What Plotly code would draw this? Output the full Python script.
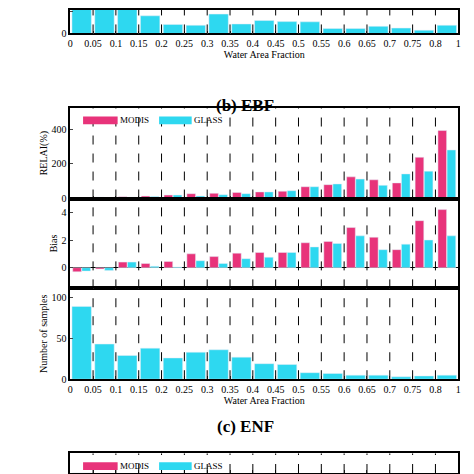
import plotly.graph_objects as go

tick_labels = ["0","0.05","0.1","0.15","0.2","0.25","0.3","0.35","0.4","0.45","0.5","0.55","0.6","0.65","0.7","0.75","0.8","1"]
top_samples = [130,130,130,82,42,38,90,44,60,55,54,23,23,33,25,15,38]
relai_modis = [5,8,10,14,20,28,30,35,38,42,68,80,125,108,90,238,392]
relai_glass = [4,6,8,12,20,14,22,28,38,45,68,84,112,76,142,158,280]
bias_modis = [-0.3,-0.1,0.4,0.3,0.45,1.0,0.8,1.05,1.1,1.1,1.8,1.9,2.9,2.2,1.3,3.4,4.2]
bias_glass = [-0.25,-0.2,0.4,0.1,0.05,0.5,0.3,0.65,0.75,1.1,1.5,1.75,2.3,1.3,1.7,2.0,2.3]
ebf_samples = [89,43,29,38,26,33,36,27,19,18,8,7,5,5,3,4,5]

MOD = "#E8337A"
GLA = "#2ED8F0"
H = 474
def py(p): return 1 - p / H
xc = [i + 0.5 for i in range(17)]

fig = go.Figure()
fig.add_bar(x=xc, y=top_samples, marker_color=GLA, width=0.85, xaxis="x", yaxis="y", showlegend=False)
fig.add_bar(x=[c - 0.2 for c in xc], y=relai_modis, marker_color=MOD, width=0.38, xaxis="x2", yaxis="y2", showlegend=False)
fig.add_bar(x=[c + 0.2 for c in xc], y=relai_glass, marker_color=GLA, width=0.38, xaxis="x2", yaxis="y2", showlegend=False)
fig.add_bar(x=[c - 0.2 for c in xc], y=bias_modis, marker_color=MOD, width=0.38, xaxis="x3", yaxis="y3", showlegend=False)
fig.add_bar(x=[c + 0.2 for c in xc], y=bias_glass, marker_color=GLA, width=0.38, xaxis="x3", yaxis="y3", showlegend=False)
fig.add_bar(x=xc, y=ebf_samples, marker_color=GLA, width=0.85, xaxis="x4", yaxis="y4", showlegend=False)
fig.add_bar(x=[0.5], y=[0], marker_color=GLA, xaxis="x5", yaxis="y5", showlegend=False)

font = dict(family="Liberation Serif", size=10, color="black")
xdom = [60/474, 453/474]
panels = {"": (-60, 24), "2": (100, 193), "3": (193, 285), "4": (285, 378), "5": (454, 520)}
yranges = {"": [0, 109], "2": [0, 524], "3": [-1.5, 5], "4": [0, 111], "5": [0, 500]}
ytv = {"": [0, 100], "2": [0, 200, 400], "3": [0, 2, 4], "4": [0, 50, 100], "5": []}
ytitles = {"": "", "2": "RELAI(%)", "3": "Bias", "4": "Number of samples", "5": ""}
lay = {}
shapes = []
for k, (t, b) in panels.items():
    d = [max(0, py(b)), min(1, py(t))]
    showx = k in ("", "4")
    lay["xaxis" + k] = dict(domain=xdom, range=[0, 17], anchor="y" + k, tickvals=list(range(18)),
                            ticktext=tick_labels, showticklabels=showx, ticks="inside", ticklen=3,
                            showline=True, mirror=True, linecolor="black", linewidth=1.5,
                            showgrid=False, zeroline=False, tickfont=font,
                            title=dict(text="Water Area Fraction" if showx else "", font=font, standoff=2))
    lay["yaxis" + k] = dict(domain=d, range=yranges[k], anchor="x" + k, tickvals=ytv[k], ticks="inside",
                            ticklen=3, showline=True, mirror=True, linecolor="black", linewidth=1.5,
                            showgrid=False, zeroline=(k == "3"), zerolinecolor="black", zerolinewidth=1,
                            tickfont=font, title=dict(text=ytitles[k], font=font, standoff=2))
    for i in range(1, 17):
        shapes.append(dict(type="line", xref="x" + k, yref="y" + k + " domain", x0=i, x1=i, y0=0, y1=1,
                           line=dict(color="black", width=1, dash="dash"), layer="above"))

annotations = [
    dict(text="<b>(b) EBF</b>", x=0.5, y=py(86), xref="paper", yref="paper", showarrow=False,
         font=dict(family="Liberation Serif", size=17, color="black")),
    dict(text="<b>(c) ENF</b>", x=0.5, y=py(438), xref="paper", yref="paper", showarrow=False,
         font=dict(family="Liberation Serif", size=17, color="black")),
]
for ly in (113, 467):
    for x0, x1, col, name in ((73, 108, MOD, "MODIS"), (150, 183, GLA, "GLASS")):
        shapes.append(dict(type="rect", xref="paper", yref="paper", x0=x0/H, x1=x1/H, y0=py(ly+4), y1=py(ly-4),
                           fillcolor=col, line=dict(width=0)))
        annotations.append(dict(text=name, x=(x1+1)/H, y=py(ly), xref="paper", yref="paper", showarrow=False,
                                xanchor="left", yanchor="middle", borderpad=0,
                                font=dict(family="Liberation Serif", size=9, color="black")))

fig.update_layout(width=474, height=474, margin=dict(l=0, r=0, t=0, b=0), plot_bgcolor="white",
                  paper_bgcolor="white", shapes=shapes, annotations=annotations, barmode="overlay", **lay)
fig.write_html("out.html")
